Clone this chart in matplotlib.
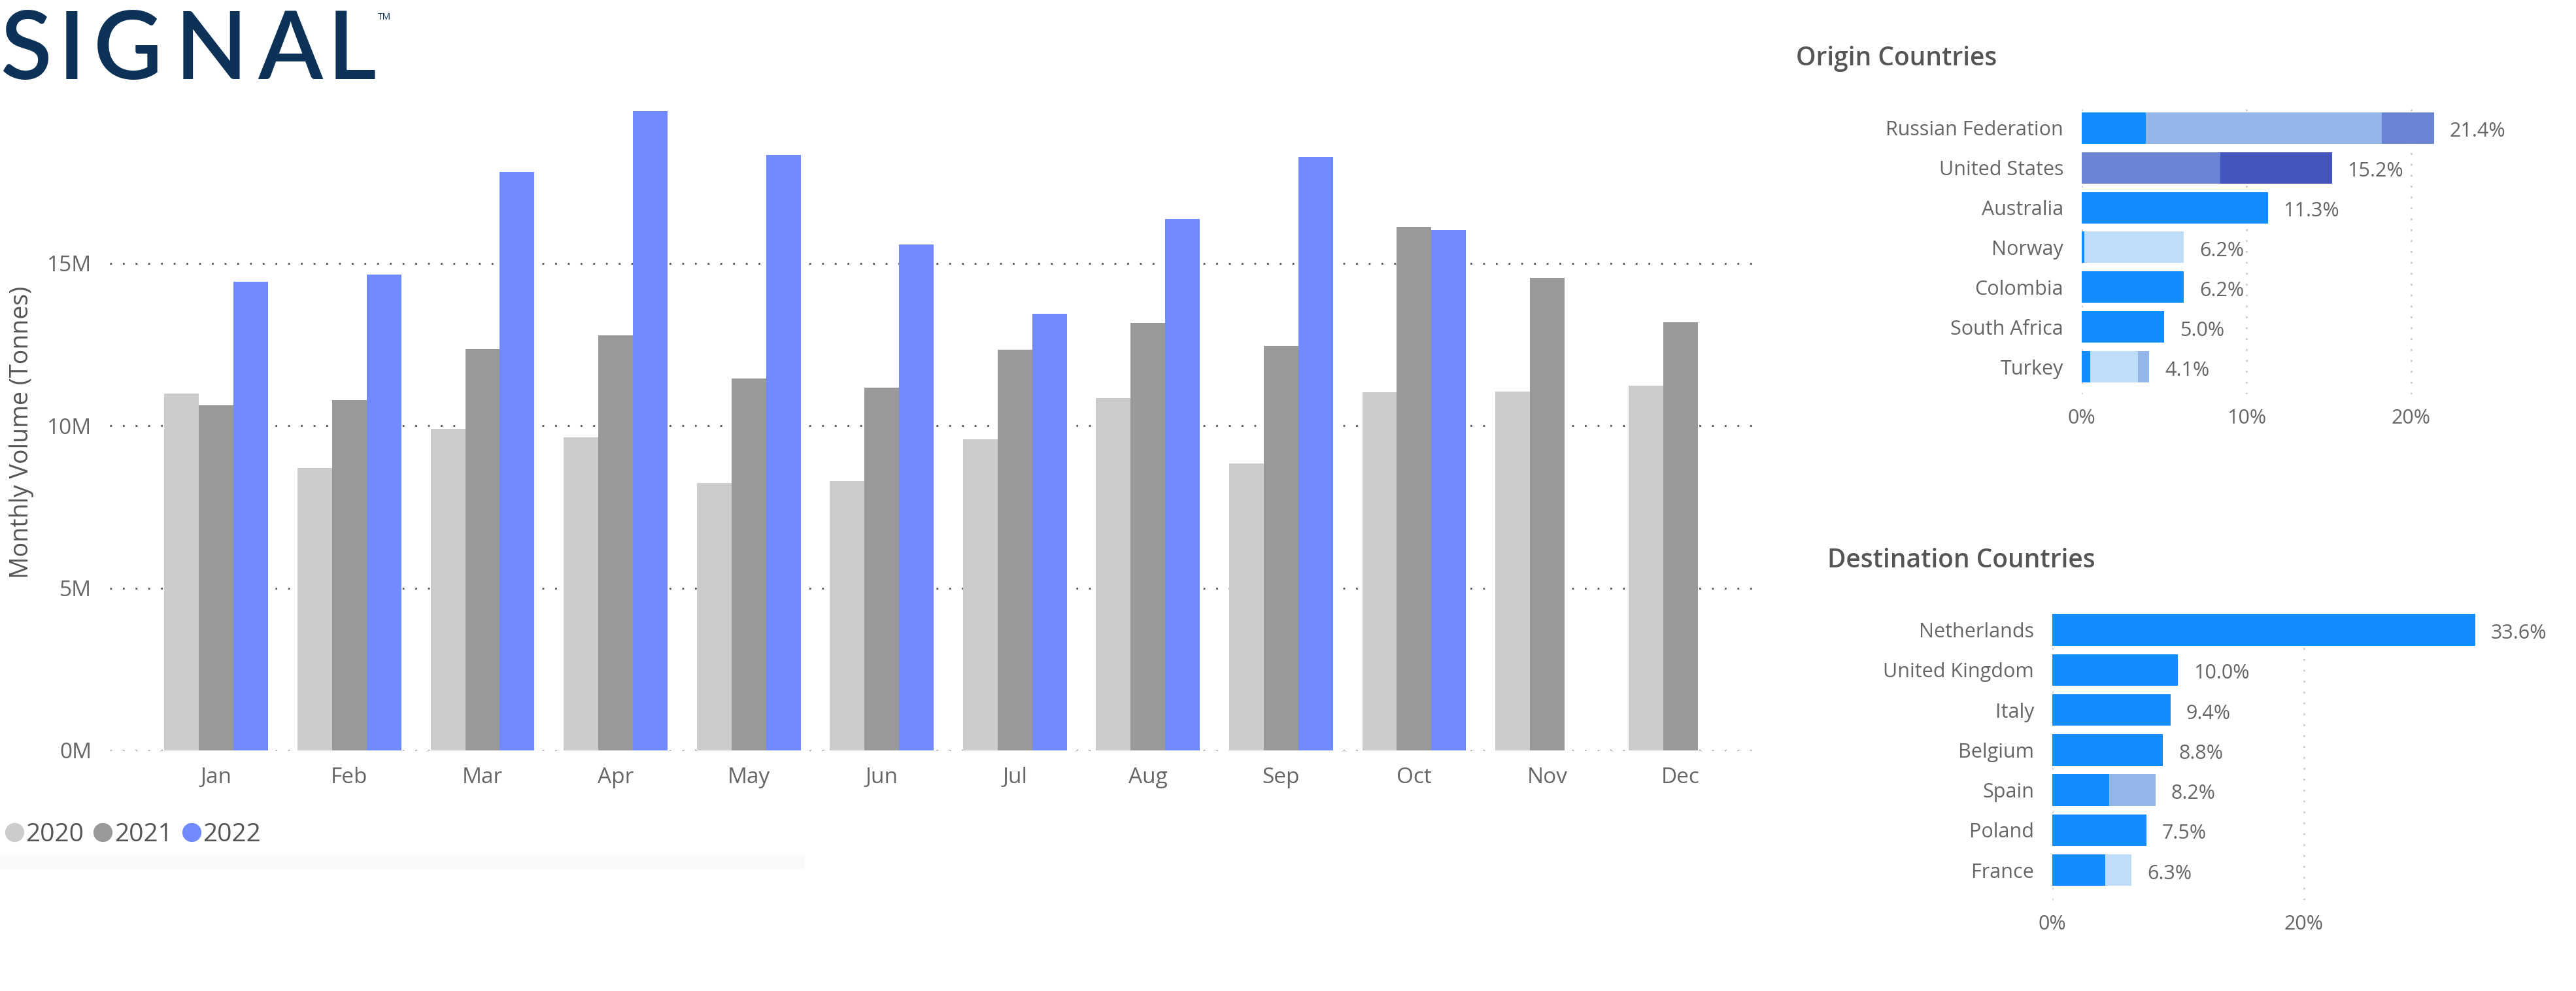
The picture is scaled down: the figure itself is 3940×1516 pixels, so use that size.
import matplotlib
matplotlib.use('Agg')
import matplotlib.pyplot as plt
from matplotlib.lines import Line2D
from matplotlib.patches import Rectangle
import numpy as np

plt.rcParams['font.family'] = ['Open Sans', 'DejaVu Sans']

W, H = 3941, 1516

# monthly volume in million tonnes
months = ['Jan', 'Feb', 'Mar', 'Apr', 'May', 'Jun', 'Jul', 'Aug', 'Sep', 'Oct', 'Nov', 'Dec']
years = ['2020', '2021', '2022']
vol_2020 = [10.98, 8.70, 9.90, 9.64, 8.23, 8.28, 9.57, 10.85, 8.83, 11.02, 11.05, 11.22]
vol_2021 = [10.62, 10.79, 12.36, 12.77, 11.45, 11.17, 12.33, 13.16, 12.45, 16.12, 14.54, 13.18]
vol_2022 = [14.43, 14.64, 17.81, 19.68, 18.34, 15.57, 13.44, 16.35, 18.27, 16.01]
year_colors = ['#CCCCCC', '#999999', '#718BFF']

# origin countries, share (%) split into stacked segments
origin_countries = ['Russian Federation', 'United States', 'Australia', 'Norway',
                    'Colombia', 'South Africa', 'Turkey']
origin_seg1 = [3.9, 0.0, 11.3, 0.15, 6.2, 5.0, 0.5]
origin_seg2 = [0.0, 0.0, 0.0, 6.05, 0.0, 0.0, 2.9]
origin_seg3 = [14.3, 0.0, 0.0, 0.0, 0.0, 0.0, 0.7]
origin_seg4 = [3.2, 8.4, 0.0, 0.0, 0.0, 0.0, 0.0]
origin_seg5 = [0.0, 6.8, 0.0, 0.0, 0.0, 0.0, 0.0]

# destination countries
dest_countries = ['Netherlands', 'United Kingdom', 'Italy', 'Belgium', 'Spain', 'Poland', 'France']
dest_seg1 = [33.6, 10.0, 9.4, 8.8, 4.5, 7.5, 4.2]
dest_seg2 = [0.0, 0.0, 0.0, 0.0, 0.0, 0.0, 2.1]
dest_seg3 = [0.0, 0.0, 0.0, 0.0, 3.7, 0.0, 0.0]

seg_colors = ['#118DFF', '#BEDDF8', '#95B6EA', '#6B85D4', '#4356C0']
txt = '#666666'


def box(x0, y0, x1, y1):
    # pixel box (top-left origin) -> figure fraction
    return [x0 / W, 1 - y1 / H, (x1 - x0) / W, (y1 - y0) / H]


fig = plt.figure(figsize=(W / 100, H / 100), dpi=100)

# ---- logo
logo_x = [40, 110, 196, 323, 444, 538]
for ch, lx in zip('SIGNAL', logo_x):
    fig.text(lx / W, 1 - 121 / H, ch, fontsize=104, color='#0D3257',
             family='Lato', fontweight='semibold', ha='center', va='baseline')
fig.text(588 / W, 1 - 30 / H, 'TM', fontsize=10, color='#0D3257', ha='center', va='baseline')

# ---- monthly volume chart
ax = fig.add_axes(box(168, 154, 2680, 1148))
x = np.arange(len(months))
bw = 0.26
ax.bar(x - bw, vol_2020, bw, color=year_colors[0], zorder=2)
ax.bar(x, vol_2021, bw, color=year_colors[1], zorder=2)
ax.bar(x[:len(vol_2022)] + bw, vol_2022, bw, color=year_colors[2], zorder=2)
ax.set_xlim(-0.8, 11.54)
ax.set_ylim(0, 20)
ax.set_yticks([0, 5, 10, 15])
ax.set_yticklabels([f'{v}M' for v in [0, 5, 10, 15]])
ax.set_xticks(x)
ax.set_xticklabels(months)
ax.yaxis.grid(True, linestyle=(0, (1, 6)), color='#555555', linewidth=2, zorder=0)
ax.set_axisbelow(True)
for s in ax.spines.values():
    s.set_visible(False)
ax.tick_params(axis='both', length=0, labelsize=24, labelcolor=txt)
ax.tick_params(axis='y', pad=20)
ax.tick_params(axis='x', pad=18)
ax.set_ylabel('Monthly Volume (Tonnes)', fontsize=27, color='#555555')
ax.yaxis.set_label_coords(-0.046, 0.49)

handles = [Line2D([], [], marker='o', linestyle='', markersize=20, color=c) for c in year_colors]
fig.legend(handles, years, loc='center left', bbox_to_anchor=(6 / W, 1 - 1277 / H),
           ncol=3, frameon=False, fontsize=28, labelcolor='#555555',
           handletextpad=0.05, columnspacing=0.35, handlelength=0.8,
           borderpad=0, borderaxespad=0)
fig.patches.append(Rectangle((0, 1 - 1328 / H), 1230 / W, 20 / H,
                             transform=fig.transFigure, color='#FAFAFA', zorder=0))


def hbar_chart(rect, cats, segs, xmax, ticks, ylim, title, title_xy):
    a = fig.add_axes(box(*rect))
    y = np.arange(len(cats))
    left = np.zeros(len(cats))
    for vals, c in zip(segs, seg_colors):
        vals = np.array(vals)
        a.barh(y, vals, 0.79, left=left, color=c, zorder=2)
        left += vals
    for yi, tot in zip(y, left):
        a.annotate(f'{tot:.1f}%', (tot, yi), xytext=(17, -4), textcoords='offset points',
                   ha='left', va='center', fontsize=22, color=txt)
    a.set_xlim(0, xmax)
    a.set_ylim(*ylim)
    a.set_yticks(y)
    a.set_yticklabels(cats)
    a.set_xticks(ticks)
    a.set_xticklabels([f'{t}%' for t in ticks])
    a.xaxis.grid(True, linestyle=(0, (1, 5)), color='#CCCCCC', linewidth=2, zorder=0)
    a.set_axisbelow(True)
    for s in a.spines.values():
        s.set_visible(False)
    a.tick_params(axis='both', length=0, labelsize=22, labelcolor=txt)
    a.tick_params(axis='y', pad=20)
    a.tick_params(axis='x', pad=16)
    fig.text(title_xy[0] / W, 1 - title_xy[1] / H, title, fontsize=28,
             fontweight='semibold', color='#555555', ha='left', va='baseline')
    return a


hbar_chart((3184, 166, 3814, 603), origin_countries,
           [origin_seg1, origin_seg2, origin_seg3, origin_seg4, origin_seg5],
           25, [0, 10, 20], (6.69, -0.49), 'Origin Countries', (2747, 100))
hbar_chart((3139, 930, 3832, 1377), dest_countries,
           [dest_seg1, dest_seg2, dest_seg3],
           36, [0, 20], (6.75, -0.55), 'Destination Countries', (2795, 868))

fig.savefig('out.png', dpi=100, facecolor='white')
